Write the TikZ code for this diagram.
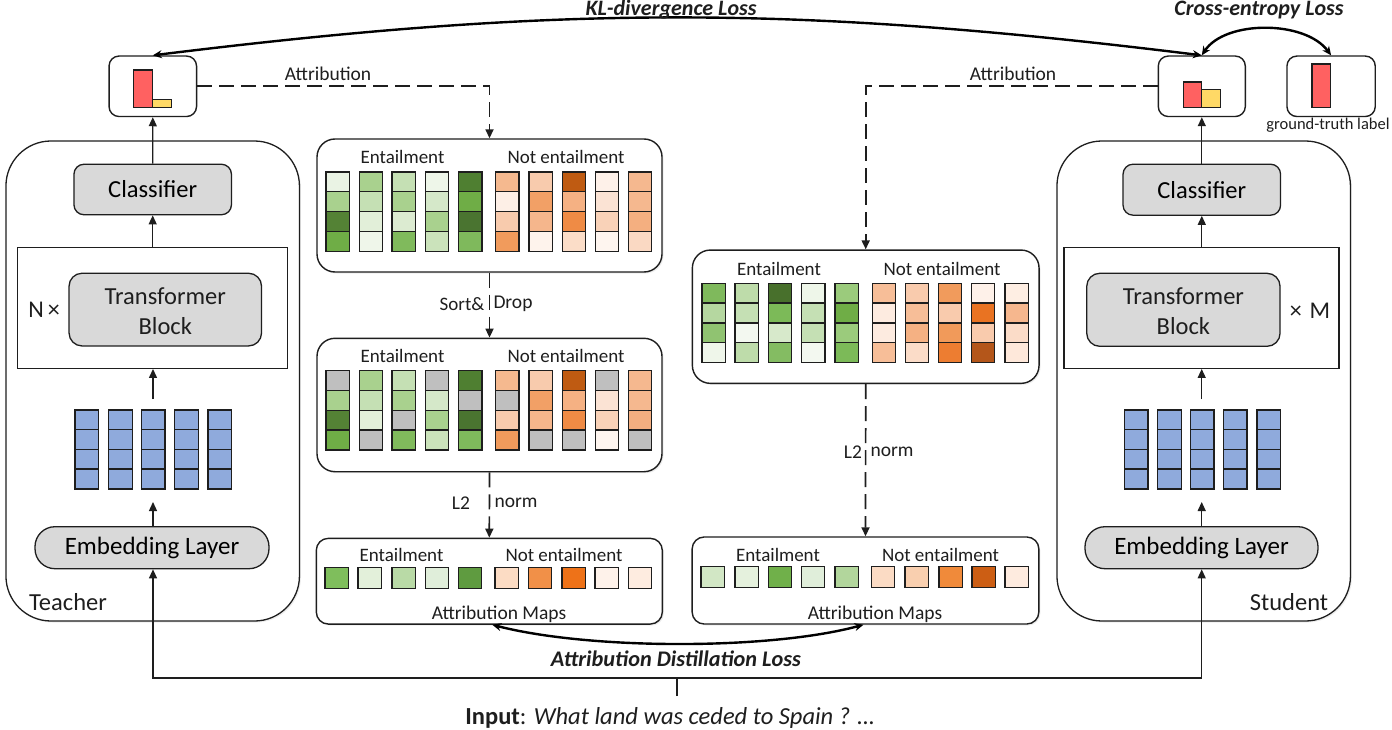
\documentclass[tikz,border=0pt]{standalone}
\usepackage{fontspec}
\setmainfont{Carlito}
\usetikzlibrary{arrows.meta,shadows}
\definecolor{ink}{HTML}{1E1E1E}
\definecolor{barred}{HTML}{FF6161}
\definecolor{baryel}{HTML}{FFD966}
\definecolor{blockgray}{HTML}{D9D9D9}
\definecolor{cellblue}{HTML}{8FAADC}
\newcommand{\fs}[1]{\fontsize{#1}{#1}\selectfont}
\tikzset{
  softshadow/.style={drop shadow={opacity=.14,shadow xshift=1.5pt,shadow yshift=-1.5pt}},
  panel/.style={draw=ink,line width=1.4pt,fill=white,rounded corners=18pt,softshadow,inner sep=0pt},
  mapbox/.style={draw=ink,line width=1.4pt,fill=white,rounded corners=12pt,softshadow,inner sep=0pt},
  bigbox/.style={draw=ink,line width=1.3pt,fill=white,rounded corners=45pt,softshadow,inner sep=0pt},
  predbox/.style={draw=ink,line width=1.4pt,fill=white,rounded corners=10pt,inner sep=0pt},
  outerbox/.style={draw=ink,line width=1.3pt,fill=white,inner sep=0pt},
  grayblock/.style={draw=ink,line width=1.3pt,fill=blockgray,rounded corners=10pt,inner sep=0pt,align=center},
  graypill/.style={draw=ink,line width=1.3pt,fill=blockgray,rounded corners=20pt,inner sep=0pt},
  lab/.style={inner sep=0pt,text=ink},
  flow/.style={draw=ink,line width=1.3pt,-{Triangle[length=9pt,width=8pt]}},
  dashflow/.style={draw=ink,line width=1.7pt,dash pattern=on 15pt off 7pt,-{Triangle[length=9pt,width=8pt]}},
  loss/.style={draw=black,line width=2.4pt,{Stealth[length=9pt,width=8pt]}-{Stealth[length=9pt,width=8pt]}},
  bar/.style={draw=ink,line width=1.3pt},
  cell/.style={draw=ink,line width=1.4pt},
}
% one stacked column of 4 cells: x, y of top, colours
\newcommand{\stackcol}[3]{%
  \foreach \cc [count=\ii from 0] in {#3}{%
    \definecolor{tmpc}{HTML}{\cc}%
    \pgfmathsetmacro{\ya}{#2+\ii*19.8}%
    \pgfmathsetmacro{\yb}{\ya+19.8}%
    \path[cell,fill=tmpc] (#1,\ya) rectangle (#1+23.2,\yb);
  }%
}
\newcommand{\mapcell}[3]{%
  \definecolor{tmpc}{HTML}{#3}%
  \path[cell,fill=tmpc] (#1,#2) rectangle (#1+23.2,#2+21);
}
\newcommand{\bluecols}[5]{%
  \foreach \xx in {#1,#2,#3,#4,#5}{%
    \foreach \ii in {0,...,3}{%
      \pgfmathsetmacro{\ya}{410+\ii*19.7}%
      \pgfmathsetmacro{\yb}{\ya+19.7}%
      \path[cell,fill=cellblue] (\xx,\ya) rectangle (\xx+23.6,\yb);
    }%
  }%
}
\begin{document}
\begin{tikzpicture}[x=1pt,y=-1pt]
\useasboundingbox (0,0) rectangle (1392,730);
\fill[white] (0,0) rectangle (1392,730);

% ---------- teacher / student containers
\node[bigbox,minimum width=293.5pt,minimum height=480pt] (teacher) at (152.7,381) {};
\node[bigbox,minimum width=293.5pt,minimum height=480pt] (student) at (1203.7,381) {};

\node[lab,font=\fs{24.5}] (teacherlab) at (68,602) {Teacher};
\node[lab,font=\fs{24.5}] (studentlab) at (1289,602) {Student};

% ---------- teacher stack
\node[predbox,minimum width=87.5pt,minimum height=60.5pt] (tp) at (152.8,86.3) {};
\node[grayblock,minimum width=157.5pt,minimum height=50.5pt,font=\fs{24.5}] (tc) at (152.7,189.5) {\raisebox{-1pt}{Classifier}};
\node[outerbox,minimum width=269.5pt,minimum height=121pt] (tt) at (152.5,307.8) {};
\node[grayblock,minimum width=192.5pt,minimum height=72.7pt,rounded corners=13pt] (tb) at (165.3,309.6) {};
\node[lab,font=\fs{24.5}] (tb1) at (165.3,296) {Transformer};
\node[lab,font=\fs{24.5}] (tb2) at (165.3,326) {Block};
\node[lab,font=\fs{24}] (tn) at (44,310) {N\,×};
\node[graypill,minimum width=234pt,minimum height=42pt,font=\fs{25}] (te) at (152,547.7) {\raisebox{-2.5pt}{Embedding Layer}};
\bluecols{75}{108.7}{141.3}{174.7}{208}
\coordinate (tblue) at (153,399);
\coordinate (tbluein) at (153,502);

% ---------- student stack
\node[predbox,minimum width=87pt,minimum height=60.5pt] (sp) at (1201.8,86.3) {};
\node[predbox,minimum width=88.3pt,minimum height=60.5pt] (gt) at (1331.1,86.3) {};
\node[lab,font=\fs{16.5}] (gtlab) at (1328,125.5) {ground-truth label};
\node[grayblock,minimum width=157.5pt,minimum height=51pt,font=\fs{24.5}] (sc) at (1201.8,189.7) {\raisebox{-1pt}{Classifier}};
\node[outerbox,minimum width=275pt,minimum height=121pt] (st) at (1201.5,307.8) {};
\node[grayblock,minimum width=193.3pt,minimum height=73pt,rounded corners=13pt] (sb) at (1183.4,309.8) {};
\node[lab,font=\fs{24.5}] (sb1) at (1183.4,296) {Transformer};
\node[lab,font=\fs{24.5}] (sb2) at (1183.4,326) {Block};
\node[lab,font=\fs{24}] (sm) at (1310,311) {×\,\,M};
\node[graypill,minimum width=233pt,minimum height=42pt,font=\fs{25}] (se) at (1201.5,547.7) {\raisebox{-2.5pt}{Embedding Layer}};
\bluecols{1124.3}{1157.7}{1190.3}{1223.5}{1257}
\coordinate (sblue) at (1201.7,399);
\coordinate (sbluein) at (1201.7,502);

% ---------- bars
\path[bar,fill=barred] (133.3,70) rectangle (152.7,107.7);
\path[bar,fill=baryel] (152.7,99.3) rectangle (171.3,107.7);
\path[bar,fill=barred] (1183.3,82) rectangle (1201.7,107.4);
\path[bar,fill=baryel] (1201.7,89.3) rectangle (1220.3,107.4);
\path[bar,fill=barred] (1312,64) rectangle (1330.7,107.4);

% ---------- attribution panel 1
\node[panel,minimum width=345pt,minimum height=133pt] (a1) at (489.5,205.5) {};
\node[lab,font=\fs{19}] (a1e) at (402.5,157) {Entailment};
\node[lab,font=\fs{19}] (a1n) at (566,157) {Not entailment};
\stackcol{326}{172}{EAF3E4,A9D18E,548235,6FAD46}
\stackcol{359.3}{172}{A9D18E,C5E0B4,E2EFD9,EFF6EA}
\stackcol{392}{172}{C5E0B4,A9D18E,DCEBD1,80BA5C}
\stackcol{425.3}{172}{EEF6E9,D5E8C9,A9D18E,CBE3BB}
\stackcol{458.6}{172}{4F7F31,6FAD46,4A7430,7FB95C}
\stackcol{495.6}{172}{F5B98F,FDEFE6,F8CBAD,F19B5C}
\stackcol{529}{172}{F8CBAD,F2A066,F5B68C,FEF3EC}
\stackcol{562.3}{172}{BF5B12,F5B183,EF8B45,FBDDC8}
\stackcol{595.3}{172}{FEF1E9,FBE3D4,F9D2B8,FEF5EF}
\stackcol{628.4}{172}{F5B88F,F5B88F,F4AF80,FAD9C3}

% ---------- attribution panel 2
\node[panel,minimum width=345pt,minimum height=133.4pt] (a2) at (489.5,405) {};
\node[lab,font=\fs{19}] (a2e) at (402.5,356) {Entailment};
\node[lab,font=\fs{19}] (a2n) at (566,356) {Not entailment};
\stackcol{326}{370.7}{BFBFBF,A9D18E,548235,6FAD46}
\stackcol{359.3}{370.7}{A9D18E,C5E0B4,E2EFD9,BFBFBF}
\stackcol{392}{370.7}{C5E0B4,A9D18E,BFBFBF,80BA5C}
\stackcol{425.3}{370.7}{BFBFBF,D5E8C9,A9D18E,CBE3BB}
\stackcol{458.6}{370.7}{4F7F31,BFBFBF,4A7430,7FB95C}
\stackcol{495.6}{370.7}{F5B98F,BFBFBF,F8CBAD,F19B5C}
\stackcol{529}{370.7}{F8CBAD,F2A066,F5B68C,BFBFBF}
\stackcol{562.3}{370.7}{BF5B12,F5B183,EF8B45,BFBFBF}
\stackcol{595.3}{370.7}{BFBFBF,FBE3D4,F9D2B8,FEF5EF}
\stackcol{628.4}{370.7}{F5B88F,F5B88F,F4AF80,BFBFBF}

% ---------- attribution panel 3
\node[panel,minimum width=346.7pt,minimum height=133.3pt] (a3) at (865.7,316.7) {};
\node[lab,font=\fs{19}] (a3e) at (779,268.5) {Entailment};
\node[lab,font=\fs{19}] (a3n) at (942,268.5) {Not entailment};
\stackcol{702}{283.3}{7FB95C,B5D7A0,90C371,EFF6EA}
\stackcol{735}{283.3}{BEDCAA,C5E0B4,F3F8F0,BEDCAA}
\stackcol{768.2}{283.3}{48702C,7CBA58,D7E9CB,84BC62}
\stackcol{801.7}{283.3}{EEF6E9,C5E0B4,C5E0B4,F3F8F0}
\stackcol{835}{283.3}{9BCB7C,6FAD46,9BCB7C,7CBA58}
\stackcol{872.3}{283.3}{F7BE98,FDEBE0,FDEBE0,F7BE98}
\stackcol{905.3}{283.3}{F9CBAD,F7BE98,F5B183,FBDCC8}
\stackcol{938.4}{283.3}{F19B5C,F9CBAD,F19A5A,ED7D31}
\stackcol{971.4}{283.3}{FEF1E9,E97322,F9CBAD,B4561A}
\stackcol{1005}{283.3}{FEEEE3,F6B78E,FBDCC8,FEE8DA}

% ---------- attribution maps
\node[mapbox,minimum width=346pt,minimum height=85.7pt] (m1) at (489.3,581.2) {};
\node[lab,font=\fs{19}] (m1e) at (401.5,555) {Entailment};
\node[lab,font=\fs{19}] (m1n) at (564,555) {Not entailment};
\node[lab,font=\fs{19.5}] (m1a) at (499,614) {Attribution Maps};
\mapcell{325}{567.3}{7FBE5C}
\mapcell{358}{567.3}{E3F0DA}
\mapcell{392}{567.3}{B9DAA6}
\mapcell{425.3}{567.3}{E0EEDA}
\mapcell{458.5}{567.3}{5F9B40}
\mapcell{495}{567.3}{FCDCC4}
\mapcell{528.5}{567.3}{F19048}
\mapcell{562}{567.3}{EE7218}
\mapcell{595}{567.3}{FEF2EA}
\mapcell{628.3}{567.3}{FEECE0}

\node[mapbox,minimum width=346.7pt,minimum height=87pt] (m2) at (865.5,580.5) {};
\node[lab,font=\fs{19}] (m2e) at (778,555) {Entailment};
\node[lab,font=\fs{19}] (m2n) at (940.5,555) {Not entailment};
\node[lab,font=\fs{19.5}] (m2a) at (875,614) {Attribution Maps};
\mapcell{701}{566.7}{D2E7C5}
\mapcell{735}{566.7}{E5F1DD}
\mapcell{768.5}{566.7}{70B04A}
\mapcell{801.5}{566.7}{E0EEDA}
\mapcell{835}{566.7}{B2D69C}
\mapcell{871.5}{566.7}{FBDBC4}
\mapcell{905}{566.7}{F9CFAF}
\mapcell{939}{566.7}{F08A3A}
\mapcell{972}{566.7}{CC5E14}
\mapcell{1005}{566.7}{FEEBDF}

% ---------- solid arrows
\draw[flow] (tc.north) -- (tp.south);
\draw[flow] (tt.north -| tc.south) -- (tc.south);
\draw[flow] (tblue) -- (tt.south -| tblue);
\draw[flow] (te.north -| tbluein) -- (tbluein);
\draw[flow] (sc.north) -- (sp.south);
\draw[flow] (st.north -| sc.south) -- (sc.south);
\draw[flow] (sblue) -- (st.south -| sblue);
\draw[flow] (se.north -| sbluein) -- (sbluein);

% ---------- input
\node[lab,font=\fs{24.5}] (input) at (670,717.5) {\textbf{Input}: \textit{What land was ceded to Spain ? …}};
\coordinate (inj) at (677,678);
\coordinate (instart) at (677,696);
\draw[draw=ink,line width=1.3pt] (instart) -- (inj);
\draw[flow] (inj) -| (tbluein |- te.south);
\draw[flow] (inj) -| (sbluein |- se.south);

% ---------- dashed connectors
\draw[dashflow] (tp.east) -| (a1.north);
\draw[dashflow] (sp.west) -| (a3.north);
\draw[dashflow] (a1.south) -- (a2.north);
\draw[dashflow] (a2.south) -- (m1.north);
\draw[dashflow] (a3.south) -- (m2.north);
\node[lab,font=\fs{19.5}] (attl) at (328,74) {Attribution};
\node[lab,font=\fs{19.5}] (attr) at (1013,74) {Attribution};
\node[lab,font=\fs{19}] (sl) at (462,304) {Sort\&};
\node[lab,font=\fs{19.5}] (sr) at (513,304) {Drop};
\node[lab,font=\fs{19.5}] (l2a) at (461,503) {L2};
\node[lab,font=\fs{19.5}] (n2a) at (516,503) {norm};
\node[lab,font=\fs{19.5}] (l2b) at (853,452) {L2};
\node[lab,font=\fs{19.5}] (n2b) at (892,452) {norm};

% ---------- losses
\draw[loss] (tp.north) .. controls (560,5) and (795,5) .. (sp.north);
\draw[loss] (sp.north) .. controls (1225,20) and (1305,20) .. (gt.north);
\draw[loss] ([xshift=3pt]m1.south) .. controls (590,650) and (770,650) .. ([xshift=-2pt]m2.south);
\node[lab,font=\fs{22}\bfseries\itshape] (kl) at (671,9.5) {KL-divergence Loss};
\node[lab,font=\fs{22}\bfseries\itshape] (ce) at (1259,10) {Cross-entropy Loss};
\node[lab,font=\fs{22.3}\bfseries\itshape] (ad) at (676,659) {Attribution Distillation Loss};
\end{tikzpicture}
\end{document}
